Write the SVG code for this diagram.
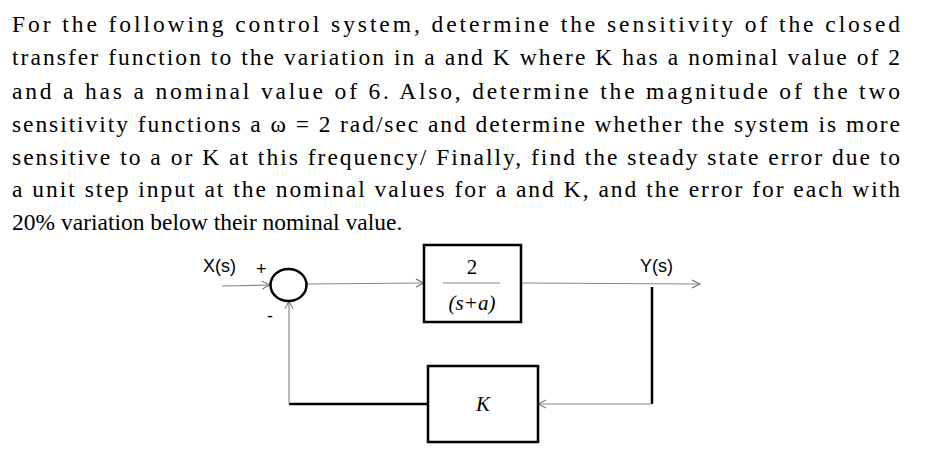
<svg xmlns="http://www.w3.org/2000/svg" width="926" height="466" viewBox="0 0 926 466">
<style>
.p{font-family:"Liberation Serif",serif;font-size:23.5px;fill:#000}
.s{font-family:"Liberation Sans",sans-serif;font-size:18px;fill:#000}
.m{font-family:"Liberation Serif",serif;font-size:21px;font-style:italic;fill:#000}
.thin{stroke:#888;stroke-width:1.2;fill:none}
.thick{stroke:#000;stroke-width:2.5;fill:none}
</style>
<defs><marker id="a" markerWidth="10" markerHeight="10" refX="9" refY="5" orient="auto" markerUnits="userSpaceOnUse"><path d="M1,1 L9,5 L1,9" fill="none" stroke="#666" stroke-width="1"/></marker></defs>
<rect width="926" height="466" fill="#fff"/>
<g id="text">
<text class="p" x="12" y="32" textLength="888" lengthAdjust="spacing">For the following control system, determine the sensitivity of the closed</text>
<text class="p" x="12" y="65" textLength="888" lengthAdjust="spacing">transfer function to the variation in a and K where K has a nominal value of 2</text>
<text class="p" x="12" y="99" textLength="888" lengthAdjust="spacing">and a has a nominal value of 6. Also, determine the magnitude of the two</text>
<text class="p" x="12" y="132" textLength="888" lengthAdjust="spacing">sensitivity functions a ω = 2 rad/sec and determine whether the system is more</text>
<text class="p" x="12" y="165" textLength="888" lengthAdjust="spacing">sensitive to a or K at this frequency/ Finally, find the steady state error due to</text>
<text class="p" x="12" y="197" textLength="888" lengthAdjust="spacing">a unit step input at the nominal values for a and K, and the error for each with</text>
<text class="p" x="12" y="230">20% variation below their nominal value.</text>
</g>
<g id="connectors">
<line class="thin" x1="222" y1="286" x2="270" y2="285" marker-end="url(#a)"/>
<line class="thin" x1="307" y1="284" x2="424" y2="283" marker-end="url(#a)"/>
<line class="thin" x1="521" y1="283" x2="700" y2="284" marker-end="url(#a)"/>
<polyline class="thick" points="652,287 652,404"/>
<line class="thin" x1="652" y1="404" x2="538" y2="404" marker-end="url(#a)"/>
<polyline class="thick" points="428,404 289,404"/>
<line class="thin" x1="289" y1="404" x2="289" y2="301" marker-end="url(#a)"/>
</g>
<g id="sum">
<ellipse class="thick" cx="288.5" cy="285" rx="18" ry="16"/>
<text class="s" x="203" y="272">X(s)</text>
<text class="s" x="256" y="275">+</text>
<text class="s" x="267" y="322">-</text>
</g>
<g id="plant">
<rect class="thick" x="424" y="245" width="97" height="77"/>
<line x1="443" y1="283" x2="500" y2="283" stroke="#888" stroke-width="1.2"/>
<text x="472" y="274" text-anchor="middle" font-family="Liberation Serif,serif" font-size="21">2</text>
<text class="m" x="472" y="310" text-anchor="middle">(s+a)</text>
</g>
<g id="K">
<rect class="thick" x="428" y="366" width="110" height="76"/>
<text class="m" x="483" y="411" text-anchor="middle">K</text>
</g>
<g id="out"><text class="s" x="640" y="272">Y(s)</text></g>
</svg>
